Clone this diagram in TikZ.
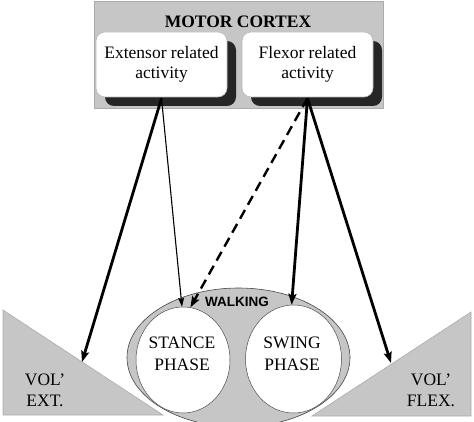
\documentclass[tikz,border=0pt]{standalone}
\usepackage{fontspec}
\setmainfont{Liberation Serif}
\newfontfamily\hvfont{Liberation Sans}
\usetikzlibrary{arrows.meta,shapes.geometric,shadows}
\begin{document}
\begin{tikzpicture}[x=1pt,y=-1pt,
  panel/.style={fill=gray!45, draw=gray!65, line width=0.6pt},
  actbox/.style={draw=gray!55, line width=0.6pt, fill=white, rounded corners=9pt,
    minimum width=131pt, minimum height=65pt, inner sep=0pt, align=center,
    font=\fontsize{17.5}{20}\selectfont,
    drop shadow={shadow xshift=9pt, shadow yshift=-9pt, fill=black!85, opacity=1}},
  phase/.style={ellipse, fill=white, draw=gray!60!black, line width=0.5pt, inner sep=0pt},
  lbl/.style={align=center, inner sep=0pt, font=\fontsize{17.5}{21}\selectfont},
  thickarrow/.style={line width=2.8pt, -{Stealth[length=11pt,width=8pt,inset=2pt]}},
  thinarrow/.style={line width=1.1pt, -{Stealth[length=9pt,width=6pt,inset=1.5pt]}},
  dasharrow/.style={line width=2.4pt, dash pattern=on 10pt off 6pt, -{Stealth[length=11pt,width=8pt,inset=2pt]}}
]
\useasboundingbox (0,0) rectangle (474,422);

% motor cortex panel
\node[panel, rectangle, minimum width=289pt, minimum height=107pt, inner sep=0pt] (cortex) at (238.5,54.5) {};
\node[inner sep=0pt, font=\fontsize{17.5}{20}\selectfont\bfseries] (title) at (238,22) {MOTOR CORTEX};
\node[actbox] (ext) at (161.5,64.5) {Extensor related\\activity};
\node[actbox] (flex) at (307.5,64.5) {Flexor related\\activity};

% triangles
\filldraw[panel] (3,310) -- (3,415) -- (163,415) -- cycle;
\filldraw[panel] (471,312) -- (471,416) -- (312,416) -- cycle;
\node[lbl] (volext) at (45,390) {VOL'\\EXT.};
\node[lbl] (volflex) at (431,390) {VOL'\\FLEX.};
\coordinate (extin) at (82,362);
\coordinate (flexin) at (391,363);

% walking
\node[panel, ellipse, draw=gray!55!black, minimum width=223pt, minimum height=139pt, inner sep=0pt] (walk) at (238.5,357.5) {};
\node[inner sep=0pt, font=\hvfont\bfseries\fontsize{13.5}{15}\selectfont] (walktxt) at (237,302) {WALKING};
\node[phase, minimum width=94pt, minimum height=106pt] (stance) at (183,360) {};
\node[phase, minimum width=96pt, minimum height=108pt] (swing) at (293.5,359) {};
\node[lbl, font=\fontsize{17.5}{21.5}\selectfont] (stancetxt) at (182,354) {STANCE\\PHASE};
\node[lbl, font=\fontsize{17.5}{21.5}\selectfont] (swingtxt) at (292,354) {SWING\\PHASE};

% connectors
\draw[thickarrow] ([yshift=-1pt]ext.south) -- (extin);
\draw[thinarrow] ([yshift=-1pt]ext.south) -- ([xshift=-1pt]stance.north);
\draw[dasharrow] ([yshift=-1pt]flex.south) -- (stance.82);
\draw[thickarrow] ([yshift=-1pt]flex.south) -- (swing.92);
\draw[thickarrow] ([yshift=-1pt]flex.south) -- (flexin);
\end{tikzpicture}
\end{document}
